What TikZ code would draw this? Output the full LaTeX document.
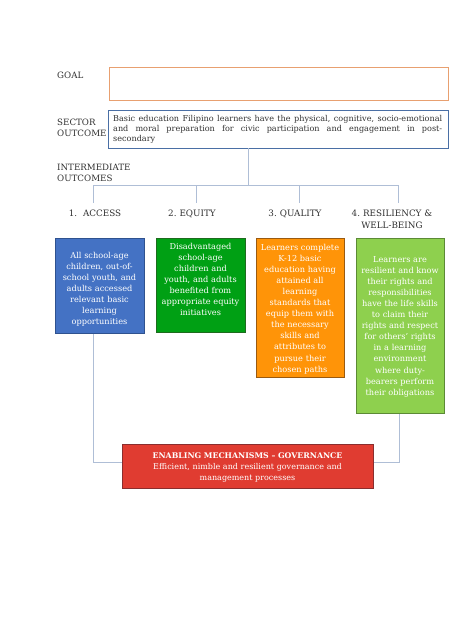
\documentclass[tikz,border=0pt]{standalone}
\usepackage{fontspec}
\setmainfont{DejaVu Serif}
\definecolor{goalc}{HTML}{E8A070}
\definecolor{secc}{HTML}{4A6FA5}
\definecolor{linec}{HTML}{AFBED6}
\definecolor{bluef}{HTML}{4472C4}
\definecolor{blued}{HTML}{2F528F}
\definecolor{greenf}{HTML}{00A014}
\definecolor{greend}{HTML}{1E6B1E}
\definecolor{orangef}{HTML}{FF9408}
\definecolor{oranged}{HTML}{9A5A10}
\definecolor{lgreenf}{HTML}{8ED04E}
\definecolor{lgreend}{HTML}{5C8A36}
\definecolor{redf}{HTML}{E03C31}
\definecolor{redd}{HTML}{8A2E2E}
\definecolor{labc}{HTML}{303030}
\tikzset{
  lab/.style={font=\fontsize{8.7}{10.5}\selectfont, text=labc, align=left, inner sep=0pt, text width=90pt, anchor=base west},
  head/.style={font=\fontsize{8.8}{12}\selectfont, text=labc, align=center, inner sep=0pt, text width=100pt, anchor=base},
  box/.style={rectangle, anchor=north west, inner sep=0pt, line width=0.8pt},
  cardtext/.style={anchor=base, inner sep=0pt, text width=88pt, align=center, text=white, font=\fontsize{8.2}{11.1}\selectfont},
  conn/.style={draw=linec, line width=0.9pt},
}
\begin{document}
\begin{tikzpicture}[x=1pt,y=-1pt]
\useasboundingbox (0,0) rectangle (474,632);
% top labels
\node[lab] (lgoal) at (57,78) {GOAL};
\node[lab] (lsec) at (57,125.5) {SECTOR\\OUTCOME};
\node[lab] (lint) at (57,170.5) {INTERMEDIATE\\OUTCOMES};
% goal box
\node[box, draw=goalc, line width=1.3pt, minimum width=339pt, minimum height=33pt] (goal) at (109,67) {};
% sector box
\node[box, draw=secc, line width=0.9pt, minimum width=340pt, minimum height=38pt] (sec) at (108,110) {};
\node[anchor=base west, inner sep=0pt, text width=329pt, font=\fontsize{8.1}{10}\selectfont, text=labc, align=justify] (sectxt) at (113,121)
 {Basic education Filipino learners have the physical, cognitive, socio-emotional\linebreak
  and moral preparation for civic participation and engagement in post-\linebreak
  secondary};
% tree
\coordinate (t0) at (248,148);
\coordinate (t1) at (248,185);
\coordinate (b1) at (93,185);
\coordinate (b4) at (398,185);
\coordinate (b2) at (196,185);
\coordinate (b3) at (299,185);
\coordinate (d1) at (93,203);
\coordinate (d2) at (196,203);
\coordinate (d3) at (299,203);
\coordinate (d4) at (398,203);
\draw[conn] (t0) -- (t1);
\draw[conn] (b1) -- (b4);
\draw[conn] (b1) -- (d1);
\draw[conn] (b2) -- (d2);
\draw[conn] (b3) -- (d3);
\draw[conn] (b4) -- (d4);
% headings
\node[head] (h1) at (95,216.5) {1.\ \ ACCESS};
\node[head] (h2) at (192,216.5) {2.\ EQUITY};
\node[head] (h3) at (295,216.5) {3.\ QUALITY};
\node[head] (h4) at (392,216.5) {4.\ RESILIENCY \&\\WELL-BEING};
% cards
\node[box, fill=bluef, draw=blued, minimum width=89pt, minimum height=95pt] (c1) at (55,238) {};
\node[box, fill=greenf, draw=greend, minimum width=89pt, minimum height=94pt] (c2) at (156,238) {};
\node[box, fill=orangef, draw=oranged, minimum width=88pt, minimum height=139pt] (c3) at (256,238) {};
\node[box, fill=lgreenf, draw=lgreend, minimum width=88pt, minimum height=175pt] (c4) at (356,238) {};
\node[cardtext] (t1c) at (99.5,258) {All school-age\\children, out-of-\\school youth, and\\adults accessed\\relevant basic\\learning\\opportunities};
\node[cardtext] (t2c) at (200.5,249) {Disadvantaged\\school-age\\children and\\youth, and adults\\benefited from\\appropriate equity\\initiatives};
\node[cardtext] (t3c) at (300,250) {Learners complete\\K-12 basic\\education having\\attained all\\learning\\standards that\\equip them with\\the necessary\\skills and\\attributes to\\pursue their\\chosen paths};
\node[cardtext] (t4c) at (400,262) {Learners are\\resilient and know\\their rights and\\responsibilities\\have the life skills\\to claim their\\rights and respect\\for others' rights\\in a learning\\environment\\where duty-\\bearers perform\\their obligations};
% bottom connector
\coordinate (e1) at (93,462);
\coordinate (e2) at (399,462);
\draw[conn] (c1.south -| e1) -- (e1) -- (e2) -- (c4.south -| e2);
% red box
\node[box, fill=redf, draw=redd, minimum width=251pt, minimum height=44pt] (gov) at (122,444) {};
\node[anchor=base, inner sep=0pt, text width=245pt, text=white, align=center, font=\fontsize{8}{11}\selectfont] (govt) at (247.5,458) {{\fontsize{7.8}{11}\selectfont\bfseries ENABLING MECHANISMS -- GOVERNANCE}\\Efficient, nimble and resilient governance and\\management processes};
\end{tikzpicture}
\end{document}
